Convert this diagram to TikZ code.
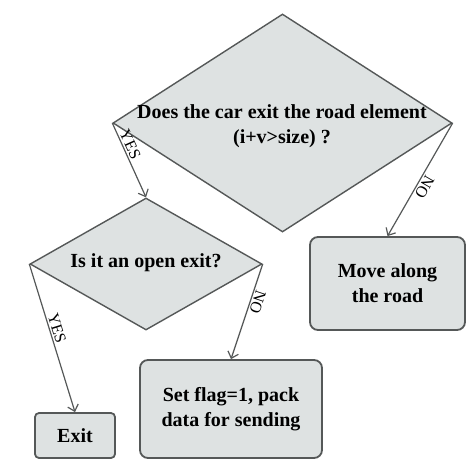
\documentclass[tikz,border=0pt]{standalone}
\usepackage{fontspec}
\setmainfont{Liberation Serif}
\usetikzlibrary{shapes.geometric, arrows.meta}

\definecolor{boxfill}{RGB}{222,226,226}
\definecolor{edgegray}{RGB}{85,88,88}

\tikzset{
  decision/.style={diamond, draw=edgegray, fill=boxfill, line width=1.4pt, inner sep=0pt},
  process/.style={rectangle, rounded corners=8pt, draw=edgegray, fill=boxfill, line width=1.8pt,
    align=center, font=\bfseries\fontsize{20}{25}\selectfont},
  qtext/.style={align=center, font=\bfseries\fontsize{20}{25}\selectfont},
  flow/.style={draw=edgegray, line width=1.2pt, -{Straight Barb[length=6pt,width=11pt]}},
  answer/.style={sloped, allow upside down, above, font=\fontsize{16}{16}\selectfont, inner sep=1.5pt}
}

\begin{document}
\begin{tikzpicture}[x=1pt,y=-1pt]
      \useasboundingbox (0,0) rectangle (474,474);

      % questions
      \node[decision, minimum width=339pt, minimum height=218pt] (exitroad) at (282.5,123) {};
      \node[qtext] (exitroadtxt) at (282,126) {Does the car exit the road element\\(i+v>size) ?};

      \node[decision, minimum width=232pt, minimum height=132pt] (openexit) at (146,264) {};
      \node[qtext] (openexittxt) at (146,263) {Is it an open exit?};

      % actions
      \node[process, minimum width=155pt, minimum height=93pt] (move) at (387.5,283.5) {Move along\\the road};
      \node[process, minimum width=182pt, minimum height=98pt] (flag) at (231,409) {Set flag=1, pack\\data for sending};
      \node[process, rounded corners=4pt, minimum width=80pt, minimum height=45pt] (exit) at (75,435.5) {Exit};

      % connectors
      \draw[flow] (exitroad.west) -- node[answer, pos=0.33] (yesa) {YES} (openexit.north);
      \draw[flow] (exitroad.east) -- node[answer, pos=0.53] (noa) {NO} (move.north);
      \draw[flow] (openexit.west) -- node[answer, pos=0.45] (yesb) {YES} (exit.north);
      \draw[flow] (openexit.east) -- node[answer, pos=0.38] (nob) {NO} (flag.north);
    \end{tikzpicture}
\end{document}
